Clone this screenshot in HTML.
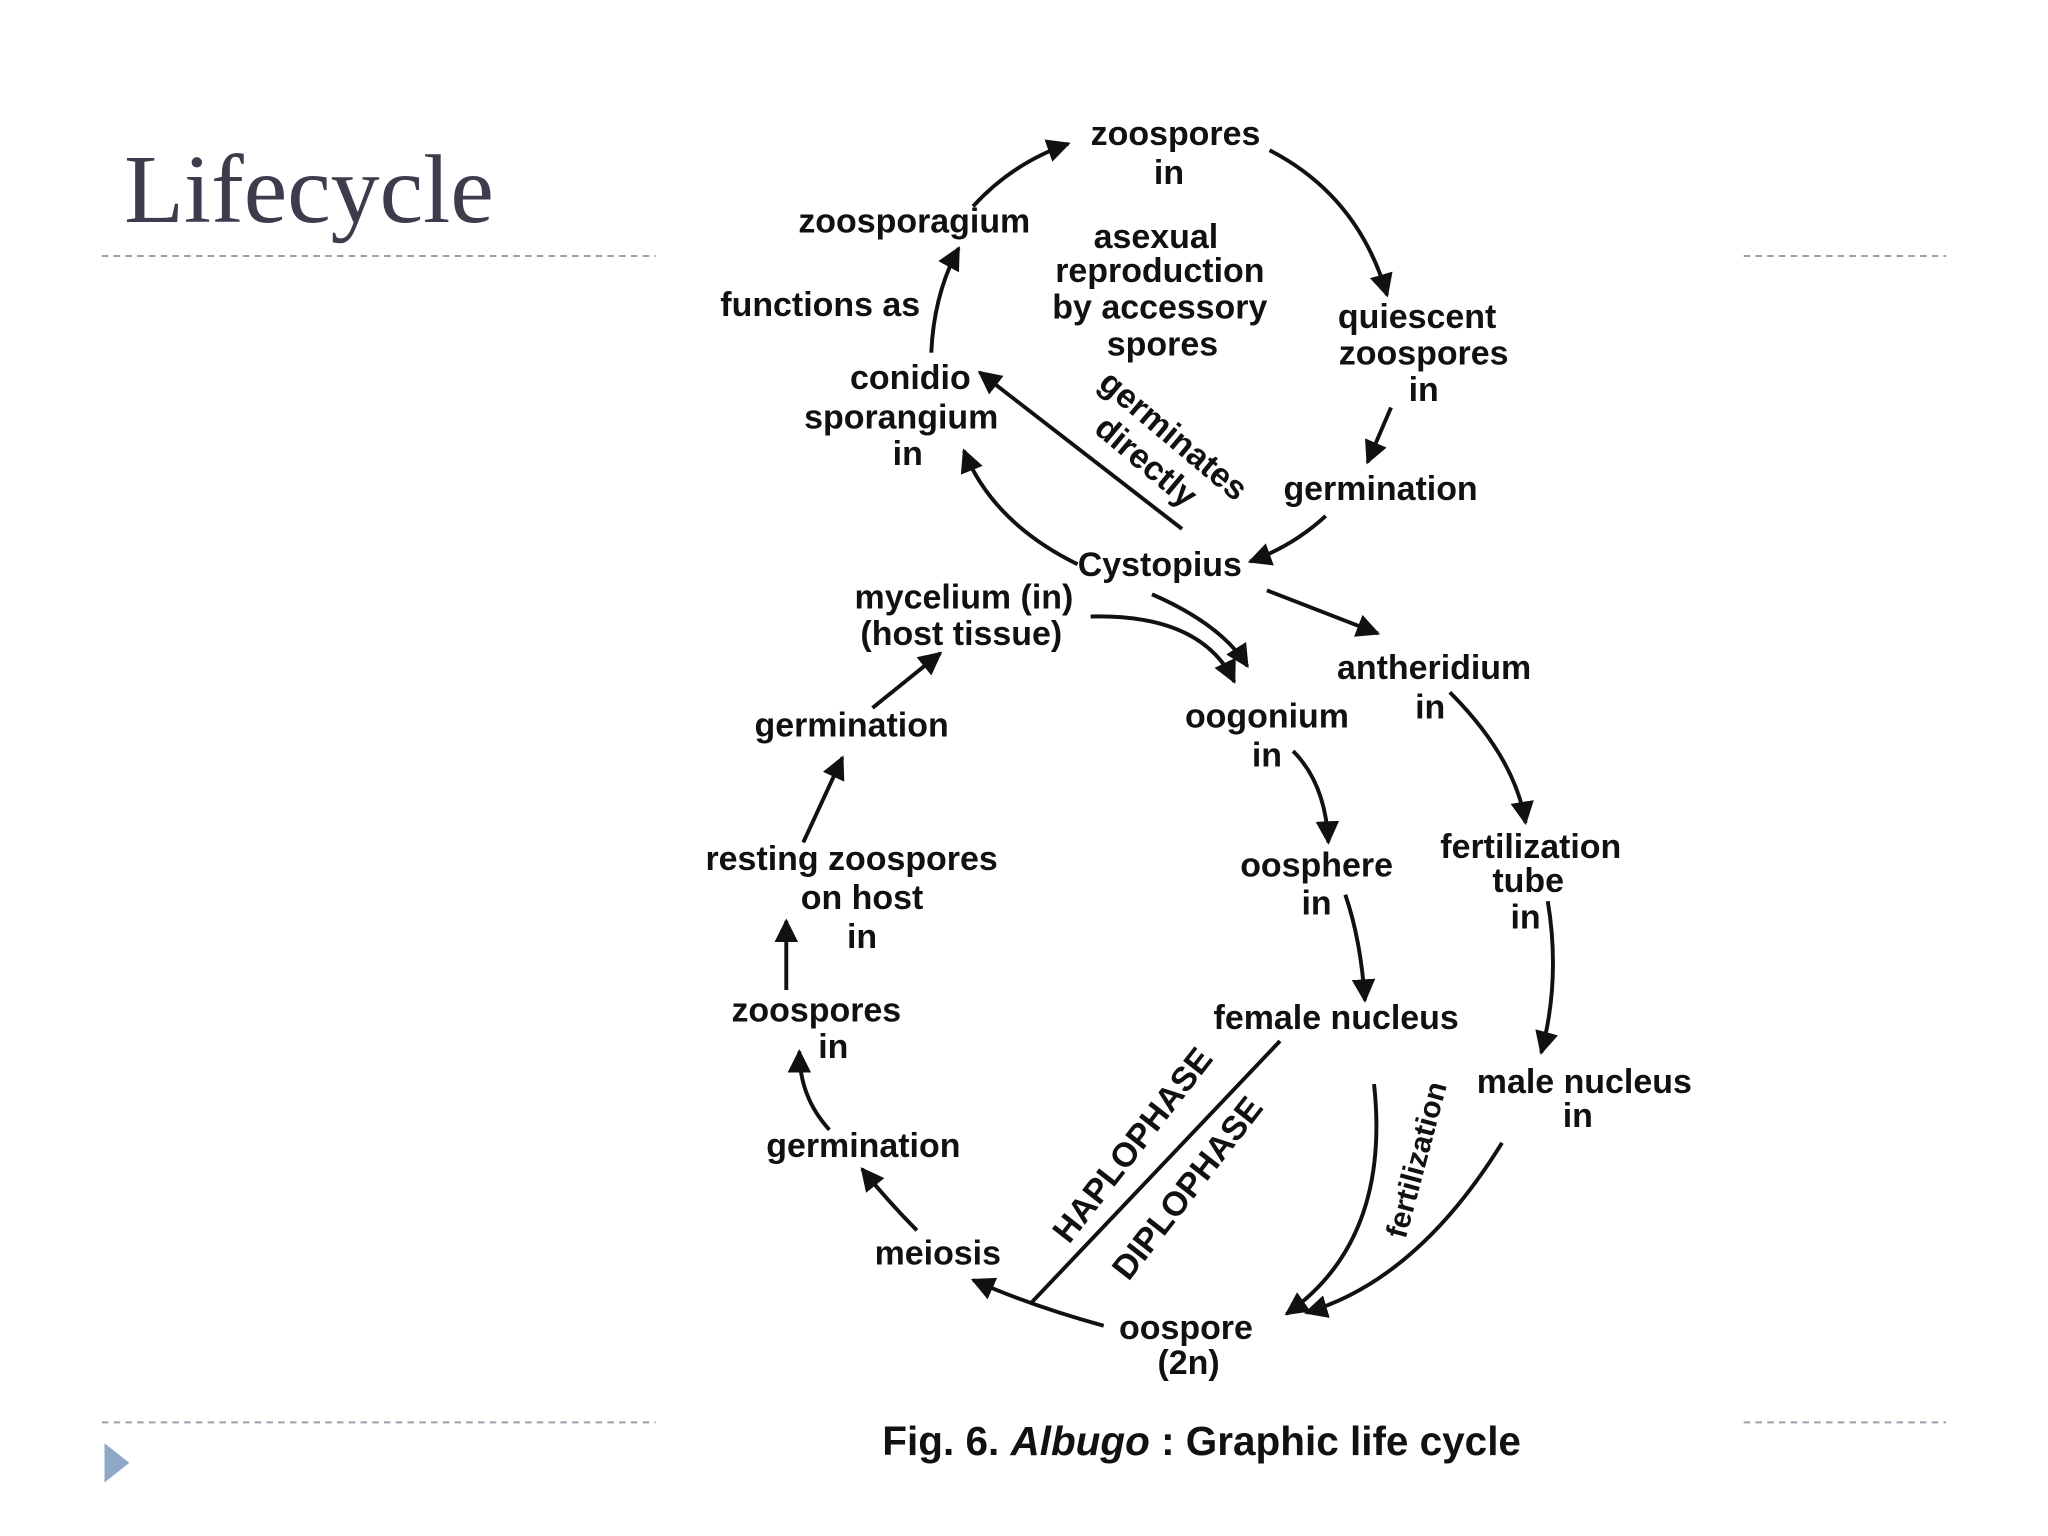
<!DOCTYPE html>
<html><head><meta charset="utf-8"><style>
html,body{margin:0;padding:0;background:#fff;}
svg{display:block;}
.t{font-family:"Liberation Sans",sans-serif;font-weight:bold;font-size:26px;fill:#111;text-anchor:middle;}
.l{fill:none;stroke:#111;stroke-width:3;marker-end:url(#a);}
</style></head><body>
<svg width="2048" height="1536" viewBox="0 0 1568 1176" xmlns="http://www.w3.org/2000/svg">
<defs><marker id="a" viewBox="0 0 10 10" refX="9" refY="5" markerWidth="6" markerHeight="6" orient="auto"><path d="M0,0 L10,5 L0,10 z" fill="#111"/></marker></defs>
<rect width="1568" height="1176" fill="#fff"/>
<text x="95" y="170" font-family="Liberation Serif,serif" font-size="75" fill="#3c3c4c">Lifecycle</text>
<g stroke="#9aa0ac" stroke-width="1.5" stroke-dasharray="5,4">
<line x1="78" y1="196" x2="502" y2="196"/><line x1="1335" y1="196" x2="1490" y2="196"/>
<line x1="78" y1="1089" x2="502" y2="1089"/><line x1="1335" y1="1089" x2="1490" y2="1089"/>
</g>
<path d="M80,1105 L99,1120 L80,1135 z" fill="#8fa8c8"/>

<g class="t">
<text x="900" y="111">zoospores</text><text x="895" y="141">in</text>
<text x="700" y="178">zoosporagium</text>
<text x="885" y="190">asexual</text><text x="888" y="216">reproduction</text><text x="888" y="244">by accessory</text><text x="890" y="272">spores</text>
<text x="628" y="242">functions  as</text>
<text x="1085" y="251">quiescent</text><text x="1090" y="279">zoospores</text><text x="1090" y="307">in</text>
<text x="697" y="298">conidio</text><text x="690" y="328">sporangium</text><text x="695" y="356">in</text>
<text transform="translate(893,340) rotate(40)">germinates</text>
<text transform="translate(872,360) rotate(40)">directly</text>
<text x="1057" y="383">germination</text>
<text x="888" y="441">Cystopius</text>
<text x="738" y="466">mycelium  (in)</text><text x="736" y="494">(host  tissue)</text>
<text x="1098" y="520">antheridium</text><text x="1095" y="550">in</text>
<text x="652" y="564">germination</text>
<text x="970" y="557">oogonium</text><text x="970" y="587">in</text>
<text x="1172" y="657">fertilization</text><text x="1170" y="683">tube</text><text x="1168" y="711">in</text>
<text x="652" y="666">resting zoospores</text><text x="660" y="696">on host</text><text x="660" y="726">in</text>
<text x="1008" y="671">oosphere</text><text x="1008" y="700">in</text>
<text x="625" y="782">zoospores</text><text x="638" y="810">in</text>
<text x="1023" y="788">female nucleus</text>
<text x="1213" y="837">male  nucleus</text><text x="1208" y="863">in</text>
<text x="661" y="886">germination</text>
<text transform="translate(874,882) rotate(-52)">HAPLOPHASE</text>
<text transform="translate(916,915) rotate(-52)">DIPLOPHASE</text>
<text transform="translate(1092,890) rotate(-75)" style="font-size:23px">fertilization</text>
<text x="718" y="968">meiosis</text>
<text x="908" y="1025">oospore</text><text x="910" y="1052">(2n)</text>
<text x="920" y="1114" style="font-size:31px">Fig. 6. <tspan font-style="italic">Albugo</tspan> : Graphic life cycle</text>
</g>

<g class="l">
<path d="M745,158 Q775,125 818,110"/>
<path d="M713,270 Q715,225 734,190"/>
<path d="M972,115 Q1040,150 1062,226"/>
<path d="M1065,312 L1047,354"/>
<path d="M1015,395 Q990,418 957,430"/>
<path d="M905,405 L750,285"/>
<path d="M825,432 Q760,400 738,345"/>
<path d="M882,455 Q935,478 955,510"/>
<path d="M835,472 Q920,470 945,522"/>
<path d="M970,452 L1055,485"/>
<path d="M1110,530 Q1160,580 1168,630"/>
<path d="M1185,690 Q1195,750 1180,806"/>
<path d="M990,575 Q1015,600 1017,645"/>
<path d="M1030,685 Q1042,720 1045,766"/>
<path d="M1052,830 Q1065,950 985,1006"/>
<path d="M1150,875 Q1085,980 1000,1005"/>
<path d="M845,1015 Q790,1000 745,980"/>
<path d="M702,942 Q680,920 660,895"/>
<path d="M635,865 Q612,840 612,805"/>
<path d="M602,758 L602,705"/>
<path d="M615,645 L645,580"/>
<path d="M668,542 L720,500"/>
</g>
<line x1="980" y1="797" x2="790" y2="997" stroke="#111" stroke-width="3"/>
</svg>
</body></html>
